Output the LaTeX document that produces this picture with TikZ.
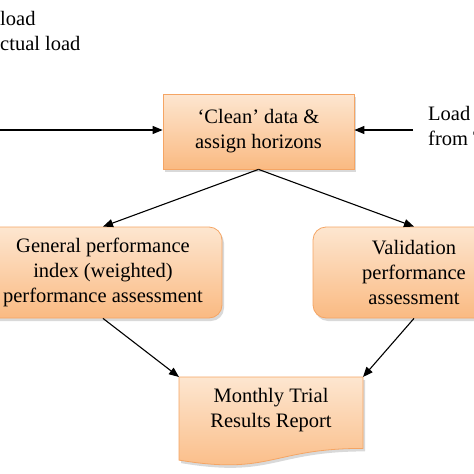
\documentclass[tikz,border=0pt]{standalone}
\usepackage{fontspec}
\setmainfont{Liberation Serif}
\usetikzlibrary{arrows.meta,positioning,shadows}
\definecolor{boxtop}{RGB}{253,230,208}
\definecolor{boxbot}{RGB}{250,186,130}
\definecolor{boxline}{RGB}{245,165,100}

\tikzset{
  flowbox/.style={draw=boxline, line width=0.8pt, top color=boxtop, bottom color=boxbot,
    align=center, inner sep=0pt,
    drop shadow={shadow xshift=2pt, shadow yshift=-3pt, opacity=0.3}},
  flowarrow/.style={-{Triangle[length=10pt,width=8pt]}, line width=1.1pt},
  plaintext/.style={anchor=west, align=left, inner sep=0pt}
}

\begin{document}
\begin{tikzpicture}[x=1pt, y=-1pt, every node/.style={font=\fontsize{20.5}{25}\selectfont}]
        \useasboundingbox (0,0) rectangle (474,474);
        \clip (0,0) rectangle (474,474);
        % legend (cut off)
        \node[plaintext] (legend) at (0,31) {load\\ctual load};
        % input
        \node[flowbox, minimum width=191pt, minimum height=75pt] (clean) at (258.5,131.5) {‘Clean’ data \&\\assign horizons};
        \coordinate (inleft) at (0,130);
        \coordinate (inright) at (413,130);
        \node[plaintext] (loadtxt) at (428,125.5) {Load\\from T};
        \draw[flowarrow] (inleft) -- (inleft -| clean.west);
        \draw[flowarrow] (inright) -- (inright -| clean.east);
        % assessments
        \node[flowbox, rounded corners=13pt, minimum width=238pt, minimum height=91pt] (general) at (103,272.5) {General performance\\index (weighted)\\performance assessment};
        \node[flowbox, rounded corners=13pt, minimum width=202pt, minimum height=91pt] (valid) at (414,272.5) {Validation\\performance\\assessment};
        \draw[flowarrow] (clean.south) -- (general.north);
        \draw[flowarrow] (clean.south) -- (valid.north);
        % report
        \coordinate (docnw) at (179,377);
        \coordinate (docne) at (363,377);
        \path[flowbox] (docnw) -- (docne) -- ++(0,71.4) .. controls (271,448.4) and (271,475.5) .. (179,460.1) -- cycle;
        \node[align=center] (report) at (271,410) {Monthly Trial\\Results Report};
        \draw[flowarrow] (general.south) -- (docnw);
        \draw[flowarrow] (valid.south) -- (docne);
\end{tikzpicture}
\end{document}
